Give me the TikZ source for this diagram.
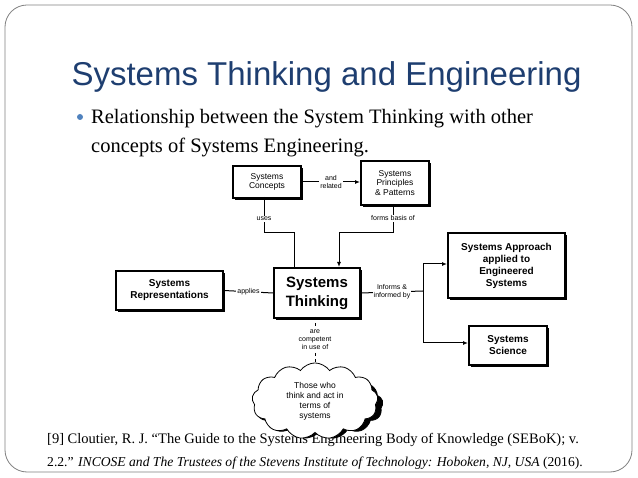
\documentclass[tikz,border=0pt]{standalone}
\usepackage{fontspec}
\setmainfont{Liberation Serif}
\newfontfamily\dsans{Liberation Sans}
\usetikzlibrary{shapes.symbols,arrows.meta}
\definecolor{ttl}{RGB}{30,62,112}
\definecolor{bul}{RGB}{80,130,190}
\begin{document}
\begin{tikzpicture}[x=1pt,y=-1pt,
  bx/.style={draw,line width=2pt,fill=white,align=center,inner sep=2pt,font=\dsans\fontsize{8.5}{9.5}\selectfont},
  bb/.style={font=\dsans\bfseries\fontsize{10}{12}\selectfont},
  lbl/.style={font=\dsans\fontsize{7}{8}\selectfont,align=center,fill=white,inner sep=1pt},
  con/.style={line width=1pt},
  arr/.style={line width=1pt,-{Latex[length=5pt,width=4pt]}}]
\useasboundingbox (0,0) rectangle (638,478);
\draw[gray,line width=0.8pt,rounded corners=22pt] (5,5) rectangle (632,472);
\node[anchor=base west,text=ttl,font=\dsans\fontsize{33}{36}\selectfont] (title) at (68,86) {Systems Thinking and Engineering};
\fill[bul] (80,117) circle (3pt);
\node[anchor=base west,font=\fontsize{20.5}{22}\selectfont,inner sep=0] (b1) at (91,124) {Relationship between the System Thinking with other};
\node[anchor=base west,font=\fontsize{20.5}{22}\selectfont,inner sep=0] (b2) at (91,153) {concepts of Systems Engineering.};
\node[anchor=base west,font=\fontsize{14.5}{16}\selectfont,inner sep=0] (r1) at (47,444) {[9] Cloutier, R. J. ``The Guide to the Systems Engineering Body of Knowledge (SEBoK); v.};
\node[anchor=base west,font=\fontsize{13.6}{16}\selectfont,inner sep=0] (r2) at (47,467) {2.2.'' \textit{INCOSE and The Trustees of the Stevens Institute of Technology: Hoboken, NJ, USA} (2016).};
% boxes
\newcommand\mybox[7]{% name x1 y1 x2 y2 style text
  \fill (#2+3,#3+3) rectangle (#4+3,#5+3);
  \node[bx,#6,minimum width=#4-#2,minimum height=#5-#3,anchor=north west] (#1) at (#2,#3) {#7};}
\mybox{conc}{232}{165}{300}{197}{}{Systems\\Concepts}
\mybox{prin}{360}{160}{428}{204}{}{Systems\\Principles\\\& Patterns}
\mybox{rep}{115}{270}{222}{309}{bb}{Systems\\Representations}
\mybox{thk}{273}{267}{359}{317}{font=\dsans\bfseries\fontsize{15}{19}\selectfont}{Systems\\Thinking}
\mybox{app}{447}{232}{564}{297}{bb}{Systems Approach\\applied to\\Engineered\\Systems}
\mybox{sci}{468}{325}{546}{364}{bb}{Systems\\Science}
% cloud
\node[cloud,cloud puffs=13,cloud puff arc=110,aspect=1.9,draw,fill=black,line width=0.8pt,minimum width=128pt,minimum height=68pt] at (319,405) {};
\node[cloud,cloud puffs=13,cloud puff arc=110,aspect=1.9,draw,fill=white,line width=0.8pt,minimum width=126pt,minimum height=66pt,align=center,font=\dsans\fontsize{8.5}{10}\selectfont] (cld) at (315,401) {Those who\\think and act in\\terms of\\systems};
% connectors
\coordinate (jr) at (423,291);
\draw[arr] (conc.east) -- node[lbl]{and\\related} (conc.east -| prin.west);
\draw[con] (264,197) -- node[lbl,pos=0.6]{uses} (264,233) -- (294,233) -- (294,267);
\draw[arr] (393,204) -- node[lbl,pos=0.5]{forms basis of} (393,233) -- (339,233) -- (339,267);
\draw[con] (rep.east) -- node[lbl]{applies} (thk.west);
\draw[con] (thk.east) -- node[lbl]{Informs \&\\informed by} (jr);
\draw[con] (423,264) -- (423,343);
\draw[arr] (423,264) -- (447,264);
\draw[arr] (423,343) -- (468,343);
\draw[con,dashed] (315,317) -- node[lbl]{are\\competent\\in use of} (cld.north);
\end{tikzpicture}
\end{document}
